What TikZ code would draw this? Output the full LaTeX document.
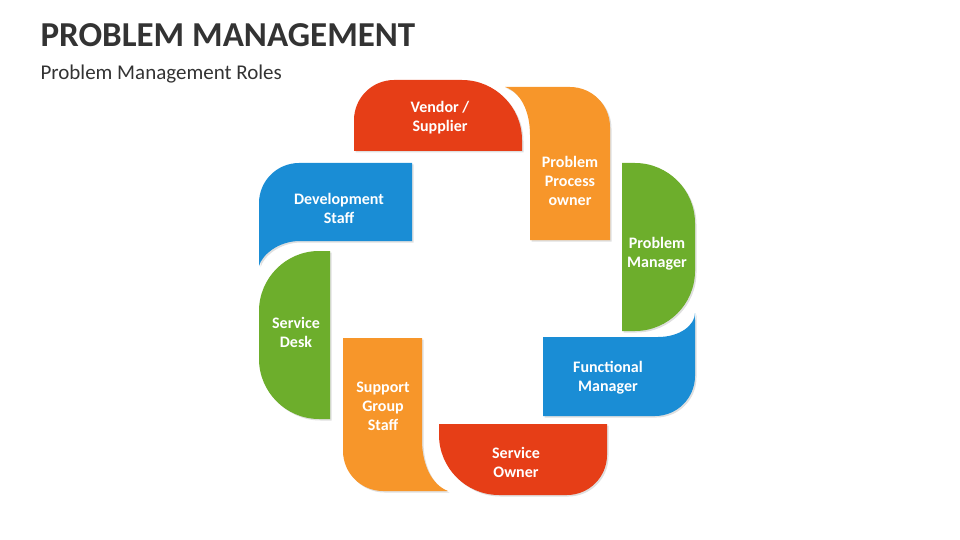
\documentclass[tikz,border=0pt]{standalone}
\usepackage{fontspec}
\setmainfont{Carlito}
\definecolor{cred}{HTML}{E63E17}
\definecolor{corange}{HTML}{F7962A}
\definecolor{cgreen}{HTML}{6DAE2C}
\definecolor{cblue}{HTML}{1A8DD5}
\definecolor{ctitle}{HTML}{333333}
\usetikzlibrary{shadows}
\begin{document}
\begin{tikzpicture}[x=1pt,y=-1pt,
  shp/.style={draw=none,drop shadow={opacity=0.25,shadow xshift=1.5pt,shadow yshift=-1.5pt}},
  lbl/.style={text=white,font=\bfseries\fontsize{16}{19}\selectfont,align=center}]
\useasboundingbox (0,0) rectangle (960,540);
\node[anchor=west,text=ctitle,font=\bfseries\fontsize{35}{40}\selectfont] (title) at (37,35) {PROBLEM MANAGEMENT};
\node[anchor=west,text=ctitle,font=\fontsize{21}{24}\selectfont] (sub) at (37,74) {Problem Management Roles};
% Vendor
\path[shp,fill=cred] (354,151) -- (354,120) .. controls (354,98) and (372,80) .. (394,80) -- (462,80) .. controls (495,80) and (522,107) .. (522,140) -- (522,151) -- cycle;
% PPO
\path[shp,fill=corange] (505,87) -- (570,87) .. controls (592,87) and (610,105) .. (610,127) -- (610,240) -- (530,240) -- (530,135) .. controls (530,110) and (520,92) .. (505,87) -- cycle;
% PM
\path[shp,fill=cgreen] (622,163) -- (635,163) .. controls (668,163) and (695,190) .. (695,223) -- (695,271) .. controls (695,304) and (668,331) .. (635,331) -- (622,331) -- cycle;
% FM
\path[shp,fill=cblue] (543,337) -- (658,337) .. controls (680,337) and (695,325) .. (695,313) -- (695,376) .. controls (695,398) and (677,416) .. (655,416) -- (543,416) -- cycle;
% SO
\path[shp,fill=cred] (439,424) -- (607,424) -- (607,455) .. controls (607,477) and (589,495) .. (567,495) -- (499,495) .. controls (466,495) and (439,468) .. (439,435) -- cycle;
% SGS
\path[shp,fill=corange] (343,338) -- (422,338) -- (422,440) .. controls (422,465) and (432,485) .. (448,491) -- (383,491) .. controls (361,491) and (343,473) .. (343,451) -- cycle;
% SD
\path[shp,fill=cgreen] (330,251) -- (330,419) -- (319,419) .. controls (286,419) and (259,392) .. (259,359) -- (259,311) .. controls (259,278) and (286,251) .. (319,251) -- cycle;
% DS
\path[shp,fill=cblue] (259,266) -- (259,203) .. controls (259,181) and (277,163) .. (299,163) -- (412,163) -- (412,241) -- (300,241) .. controls (278,241) and (262,255) .. (259,266) -- cycle;
\node[lbl] (vs) at (440,118) {Vendor /\\Supplier};
\node[lbl] (ppo) at (570,181) {Problem\\Process\\owner};
\node[lbl] (pm) at (657,254) {Problem\\Manager};
\node[lbl] (fm) at (608,378) {Functional\\Manager};
\node[lbl] (so) at (516,462) {Service\\Owner};
\node[lbl] (sgs) at (383,406) {Support\\Group\\Staff};
\node[lbl] (sd) at (296,332) {Service\\Desk};
\node[lbl] (ds) at (339,208) {Development\\Staff};
\end{tikzpicture}
\end{document}
